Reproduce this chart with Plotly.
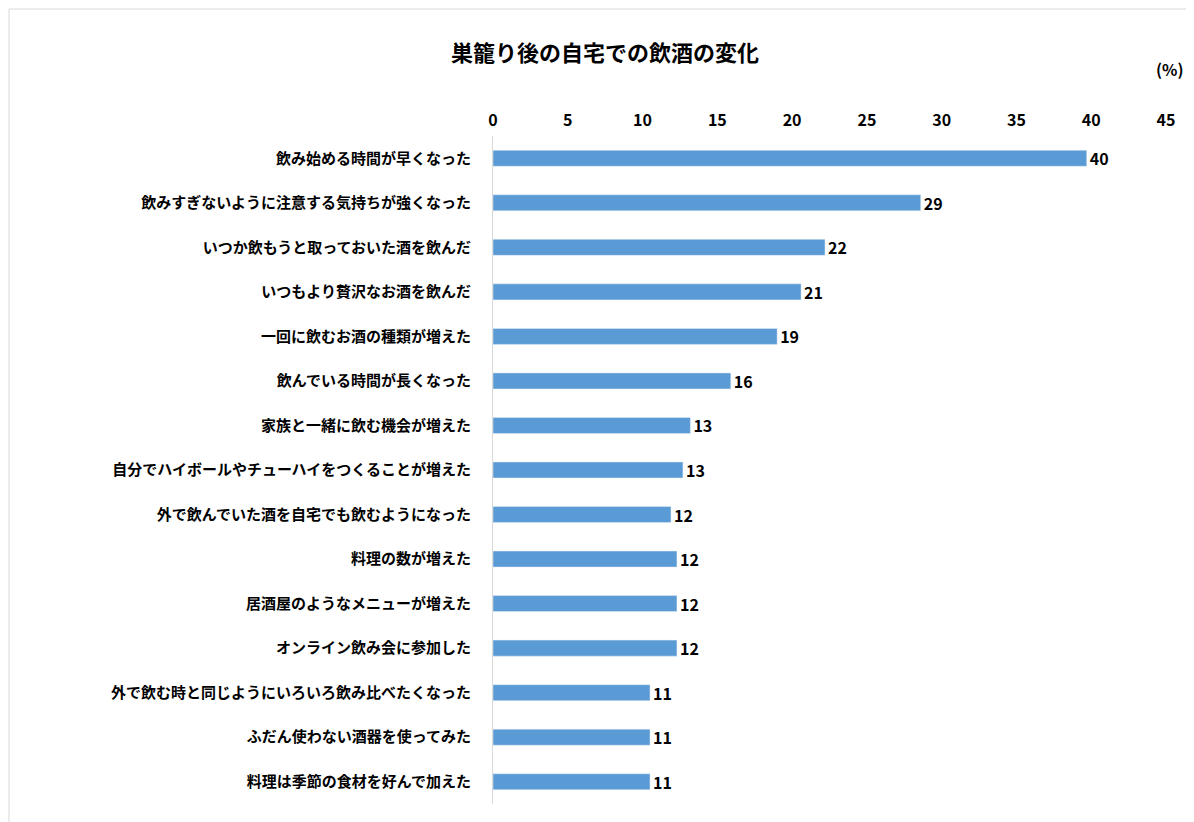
import plotly.graph_objects as go

categories = [
    "飲み始める時間が早くなった",
    "飲みすぎないように注意する気持ちが強くなった",
    "いつか飲もうと取っておいた酒を飲んだ",
    "いつもより贅沢なお酒を飲んだ",
    "一回に飲むお酒の種類が増えた",
    "飲んでいる時間が長くなった",
    "家族と一緒に飲む機会が増えた",
    "自分でハイボールやチューハイをつくることが増えた",
    "外で飲んでいた酒を自宅でも飲むようになった",
    "料理の数が増えた",
    "居酒屋のようなメニューが増えた",
    "オンライン飲み会に参加した",
    "外で飲む時と同じようにいろいろ飲み比べたくなった",
    "ふだん使わない酒器を使ってみた",
    "料理は季節の食材を好んで加えた",
]
values = [39.7, 28.6, 22.2, 20.6, 19.0, 15.9, 13.2, 12.7, 11.9, 12.3, 12.3, 12.3, 10.5, 10.5, 10.5]
labels = ["40", "29", "22", "21", "19", "16", "13", "13", "12", "12", "12", "12", "11", "11", "11"]

font = "Noto Sans CJK JP"
L, R, T, B = 485, 36, 128, 26
pw, ph = 1194 - L - R, 822 - T - B

fig = go.Figure(go.Bar(
    x=values, y=categories, orientation="h",
    marker_color="#5b9bd5", width=0.36,
    text=["<b>%s</b>" % s for s in labels], textposition="outside", cliponaxis=False,
    constraintext="none",
    textfont=dict(size=16, color="#000", family=font),
))
fig.update_layout(
    width=1194, height=822,
    margin=dict(l=L, r=R, t=T, b=B),
    paper_bgcolor="white", plot_bgcolor="white",
    font=dict(family=font, color="#000"),
    title=dict(text="<b>巣籠り後の自宅での飲酒の変化</b>", x=0.5, xanchor="center",
               y=1 - 45 / 822, yanchor="middle", font=dict(size=22, family=font)),
    xaxis=dict(side="top", range=[0, 45], dtick=5, showgrid=False, zeroline=False,
               tickfont=dict(size=16, family=font), ticklabelstandoff=6),
    yaxis=dict(autorange="reversed", showline=True, linecolor="#d9d9d9", linewidth=1,
               ticks="", tickfont=dict(size=15, family=font), ticklabelstandoff=18),
    showlegend=False,
    shapes=[dict(type="rect", xref="paper", yref="paper", x0=-(L - 1) / pw, x1=1 + (R - 2) / pw,
                 y0=-(B - 2) / ph, y1=1 + (T - 1) / ph, line=dict(color="#d9d9d9", width=1))],
    annotations=[dict(text="<b>(%)</b>", xref="paper", yref="paper", x=1 + 20 / pw, y=1 + 67 / ph,
                      showarrow=False, font=dict(size=16, family=font), xanchor="right",
                      yanchor="middle")],
)
fig.update_xaxes(tickprefix="<b>", ticksuffix="</b>")
fig.update_yaxes(tickprefix="<b>", ticksuffix="</b>")
fig.write_html("out.html")
